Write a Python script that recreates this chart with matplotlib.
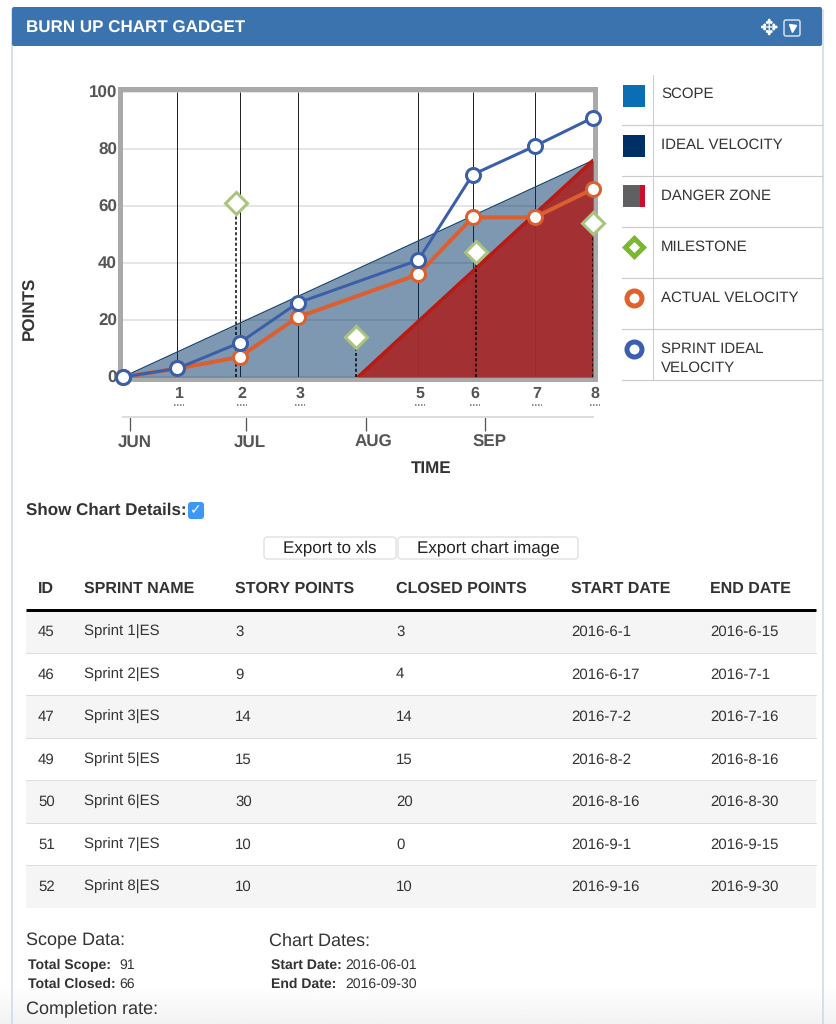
import numpy as np
from matplotlib import pyplot as plt
from matplotlib.patches import Rectangle, FancyBboxPatch

plt.rcParams['font.family'] = ['Liberation Sans', 'DejaVu Sans']
plt.rcParams['text.hinting'] = 'no_hinting'
plt.rcParams['text.hinting_factor'] = 1

# chart data (x = days after 2016-06-01)
sprint_days = [0, 14, 30, 45, 76, 90, 106, 121]
sprint_ideal = [0, 3, 12, 26, 41, 71, 81, 91]
actual = [0, 3, 7, 21, 36, 56, 56, 66]
ideal_days = [0, 121]
ideal_values = [0, 76]
danger_days = [60.5, 121]
danger_values = [0, 76]
milestone_days = [29, 60, 91, 121]
milestone_values = [61, 14, 44, 54]
sprint_labels = ['1', '2', '3', '5', '6', '7', '8']
month_days = [1.8, 31.7, 62.6, 93.2]
month_labels = ['JUN', 'JUL', 'AUG', 'SEP']

# table data
table_head = ['ID', 'SPRINT NAME', 'STORY POINTS', 'CLOSED POINTS', 'START DATE', 'END DATE']
ids = ['45', '46', '47', '49', '50', '51', '52']
names = ['Sprint 1|ES', 'Sprint 2|ES', 'Sprint 3|ES', 'Sprint 5|ES', 'Sprint 6|ES', 'Sprint 7|ES', 'Sprint 8|ES']
story = ['3', '9', '14', '15', '30', '10', '10']
closed = ['3', '4', '14', '15', '20', '0', '10']
starts = ['2016-6-1', '2016-6-17', '2016-7-2', '2016-8-2', '2016-8-16', '2016-9-1', '2016-9-16']
ends = ['2016-6-15', '2016-7-1', '2016-7-16', '2016-8-16', '2016-8-30', '2016-9-15', '2016-9-30']
legend_names = ['SCOPE', 'IDEAL VELOCITY', 'DANGER ZONE', 'MILESTONE', 'ACTUAL VELOCITY', 'SPRINT IDEAL\nVELOCITY']

W, H = 836, 1024
PX = 0.72  # points per pixel at dpi 100
TXT = '#333333'
GREY = '#555555'


def box(x0, y0, x1, y1):
    # pixel box, y from the top, to figure fractions
    return [x0 / W, 1 - y1 / H, (x1 - x0) / W, (y1 - y0) / H]


fig = plt.figure(figsize=(8.36, 10.24), dpi=100, facecolor='white')

# page furniture in pixel coordinates
page = fig.add_axes([0, 0, 1, 1], zorder=0)
page.axis('off')
fade = np.linspace(1, 0.95, 40).reshape(-1, 1)
page.imshow(fade, extent=[0, W, H, 985], cmap='gray', vmin=0, vmax=1, aspect='auto', zorder=0)
page.set_xlim(0, W)
page.set_ylim(H, 0)

page.plot([11.5, 11.5], [10, H], color='#c5d8ee', lw=1.5 * PX, zorder=1)
page.plot([822.5, 822.5], [10, H], color='#c5d8ee', lw=1.5 * PX, zorder=1)
page.add_patch(FancyBboxPatch((12, 7), 810, 39, boxstyle='round,pad=0,rounding_size=2', fc='#3b73af', ec='none', zorder=2))
page.text(26, 28, 'BURN UP CHART GADGET', color='white', fontsize=17 * PX, fontweight='bold', va='center', zorder=3)
page.text(768, 28.5, '\u2725', color='white', fontsize=22 * PX, ha='center', va='center', family='DejaVu Sans', zorder=3)
page.add_patch(FancyBboxPatch((784, 20), 16, 16, boxstyle='round,pad=0,rounding_size=2', fc='none', ec='#d5e2f0', lw=1.5 * PX, zorder=3))
page.plot([792], [27.5], marker='v', ms=7 * PX, color='white', zorder=3)

# chart frame sits behind the plot axes
page.add_patch(Rectangle((118, 87), 480, 295, fc='#a9a9a9', ec='none', zorder=1))
page.text(30, 308, 'POINTS', rotation=90, color=TXT, fontsize=17 * PX, fontweight='bold', ha='center', va='center')
page.text(431, 468.5, 'TIME', color=TXT, fontsize=17.5 * PX, fontweight='bold', ha='center', va='center')

ax = fig.add_axes(box(123, 92, 593, 377), zorder=2)
ax.set_xlim(0, 121)
ax.set_ylim(0, 100)
for s in ax.spines.values():
    s.set_visible(False)
ax.set_yticks([0, 20, 40, 60, 80, 100])
ax.set_xticks([])
ax.tick_params(axis='y', length=0, pad=6 * PX, labelsize=17 * PX, labelcolor=GREY)
for t in ax.get_yticklabels():
    t.set_fontweight('bold')
ax.grid(axis='y', color='#dddddd', lw=1.5 * PX, zorder=0)
ax.set_axisbelow(True)
ax.vlines(sprint_days[1:-1], 0, 100, color='#222222', lw=1 * PX, zorder=1)

ax.fill_between(ideal_days, ideal_values, color='#003366', alpha=0.5, lw=0, zorder=2)
ax.plot(ideal_days, ideal_values, color='#1a4570', lw=1.3 * PX, zorder=2.1)
ax.fill_between(danger_days, danger_values, color='#a62c2c', alpha=0.95, lw=0, zorder=2.2)
ax.plot(danger_days, danger_values, color='#b81a14', lw=3.5 * PX, zorder=2.3, solid_capstyle='round')

ax.vlines(milestone_days, 0, milestone_values, color='black', lw=1.5 * PX, linestyles=(0, (2, 1.5)), zorder=3)
ax.plot(sprint_days, actual, color='#db5f2f', lw=4 * PX, marker='o', ms=14 * PX, mfc='white',
        mec='#db5f2f', mew=3 * PX, zorder=4, clip_on=False)
ax.plot(sprint_days, sprint_ideal, color='#3b5ea8', lw=3 * PX, marker='o', ms=14 * PX, mfc='white',
        mec='#3b5ea8', mew=3 * PX, zorder=5, clip_on=False)
ax.plot(milestone_days, milestone_values, ls='none', marker='D', ms=15 * PX, mfc='white', mec='#a9c47f',
        mew=3 * PX, zorder=6, clip_on=False)

# sprint numbers with a dotted mark under them
for d, lab in zip(sprint_days[1:], sprint_labels):
    ax.annotate(lab, (d, 0), xytext=(2 * PX, -17 * PX), textcoords='offset points', ha='center', va='center',
                color=GREY, fontsize=16 * PX, fontweight='bold', annotation_clip=False)
    page.plot([123 + d * 470 / 121 - 3, 123 + d * 470 / 121 + 7], [405, 405], color='#666666', lw=1.5 * PX, ls=(0, (1, 1)))

# month axis
ax_m = fig.add_axes(box(123, 416, 593, 417), zorder=1)
ax_m.set_xlim(0, 121)
ax_m.set_ylim(0, 1)
ax_m.patch.set_visible(False)
for k in ['top', 'left', 'right']:
    ax_m.spines[k].set_visible(False)
ax_m.spines['bottom'].set_color('#dddddd')
ax_m.spines['bottom'].set_linewidth(2 * PX)
ax_m.set_yticks([])
ax_m.set_xticks(month_days)
ax_m.set_xticklabels([])
ax_m.tick_params(axis='x', length=14 * PX, width=1.3 * PX, color='#555555')
for d, lab, dx in zip(month_days, month_labels, [5, 4, 7, 5]):
    ax_m.annotate(lab, (d, 0), xytext=(dx * PX, -25 * PX), textcoords='offset points', ha='center', va='center',
                  color=GREY, fontsize=17.5 * PX, fontweight='bold', annotation_clip=False)

# legend table
leg_rows = [125, 176, 227, 278, 329, 380]
page.plot([653, 653], [75, 380], color='#cccccc', lw=1 * PX)
for y, name in zip(leg_rows, legend_names):
    page.plot([622, 822], [y, y], color='#cccccc', lw=1.2 * PX)
    if '\n' in name:
        page.text(661, y - 21.5, name, color=TXT, fontsize=15.3 * PX, va='center', linespacing=1.48)
    else:
        page.text(661, y - 31.5, name, color=TXT, fontsize=15.3 * PX, va='center')
page.add_patch(Rectangle((623, 85), 22, 22, fc='#0a6eb4', ec='none'))
page.add_patch(Rectangle((623, 135), 22, 22, fc='#002f66', ec='none'))
page.add_patch(Rectangle((623, 185), 18, 22, fc='#5f6062', ec='none'))
page.add_patch(Rectangle((640, 185), 5, 22, fc='#c8102e', ec='none'))
page.plot([634], [247], marker='D', ms=12.5 * PX, mfc='white', mec='#7cb82f', mew=5 * PX)
page.plot([634], [298], marker='o', ms=15 * PX, mfc='white', mec='#e0622a', mew=5 * PX)
page.plot([634], [349], marker='o', ms=15 * PX, mfc='white', mec='#3b5eb0', mew=5 * PX)

# show details + buttons
page.text(26, 510.5, 'Show Chart Details:', color=TXT, fontsize=17 * PX, fontweight='bold', va='center')
page.add_patch(FancyBboxPatch((188, 502), 16, 17, boxstyle='round,pad=0,rounding_size=3', fc='#3d97f5', ec='none'))
page.text(196, 510.5, '\u2713', color='white', fontsize=14 * PX, ha='center', va='center', family='DejaVu Sans')
for x0, x1, lab in [(264, 396, 'Export to xls'), (398, 578, 'Export chart image')]:
    page.add_patch(FancyBboxPatch((x0, 537), x1 - x0, 22, boxstyle='round,pad=0,rounding_size=3', fc='white', ec='#dcdcdc', lw=1.2 * PX))
    page.text((x0 + x1) / 2, 548, lab, color='#222222', fontsize=16.6 * PX, ha='center', va='center')

# table
col_x = [38, 84, 235, 396, 571, 710]
for x, lab in zip(col_x, table_head):
    page.text(x, 588.5, lab, color=TXT, fontsize=15.8 * PX, fontweight='bold', va='center')
page.plot([26, 816], [610, 610], color='black', lw=3 * PX, solid_capstyle='butt')
row_h = 42.5
for i in range(len(ids)):
    top = 611 + i * row_h - (1 if i else 0)
    cy = 632 + i * row_h
    if i % 2 == 0:
        page.add_patch(Rectangle((26, top), 790, row_h, fc='#f5f5f5', ec='none', zorder=0.5))
    if i:
        page.plot([26, 816], [top, top], color='#dddddd', lw=1 * PX)
    for x, val in zip(col_x, [ids[i], names[i], story[i], closed[i], starts[i], ends[i]]):
        page.text(x, cy, val, color=TXT, fontsize=15.2 * PX, va='center')

# summary
page.text(26, 941, 'Scope Data:', color=TXT, fontsize=18.3 * PX, va='center')
page.text(269, 941, 'Chart Dates:', color=TXT, fontsize=18.3 * PX, va='center')
page.text(28, 965, 'Total Scope:', color=TXT, fontsize=13.9 * PX, fontweight='bold', va='center')
page.text(119, 965, '91', color=TXT, fontsize=14.2 * PX, va='center')
page.text(28, 984, 'Total Closed:', color=TXT, fontsize=13.9 * PX, fontweight='bold', va='center')
page.text(119, 984, '66', color=TXT, fontsize=14.2 * PX, va='center')
page.text(271, 965, 'Start Date:', color=TXT, fontsize=13.9 * PX, fontweight='bold', va='center')
page.text(345, 965, '2016-06-01', color=TXT, fontsize=14.2 * PX, va='center')
page.text(271, 984, 'End Date:', color=TXT, fontsize=13.9 * PX, fontweight='bold', va='center')
page.text(345, 984, '2016-09-30', color=TXT, fontsize=14.2 * PX, va='center')
page.text(26, 1009, 'Completion rate:', color=TXT, fontsize=18.3 * PX, va='center')

fig.savefig('out.png', dpi=100)
